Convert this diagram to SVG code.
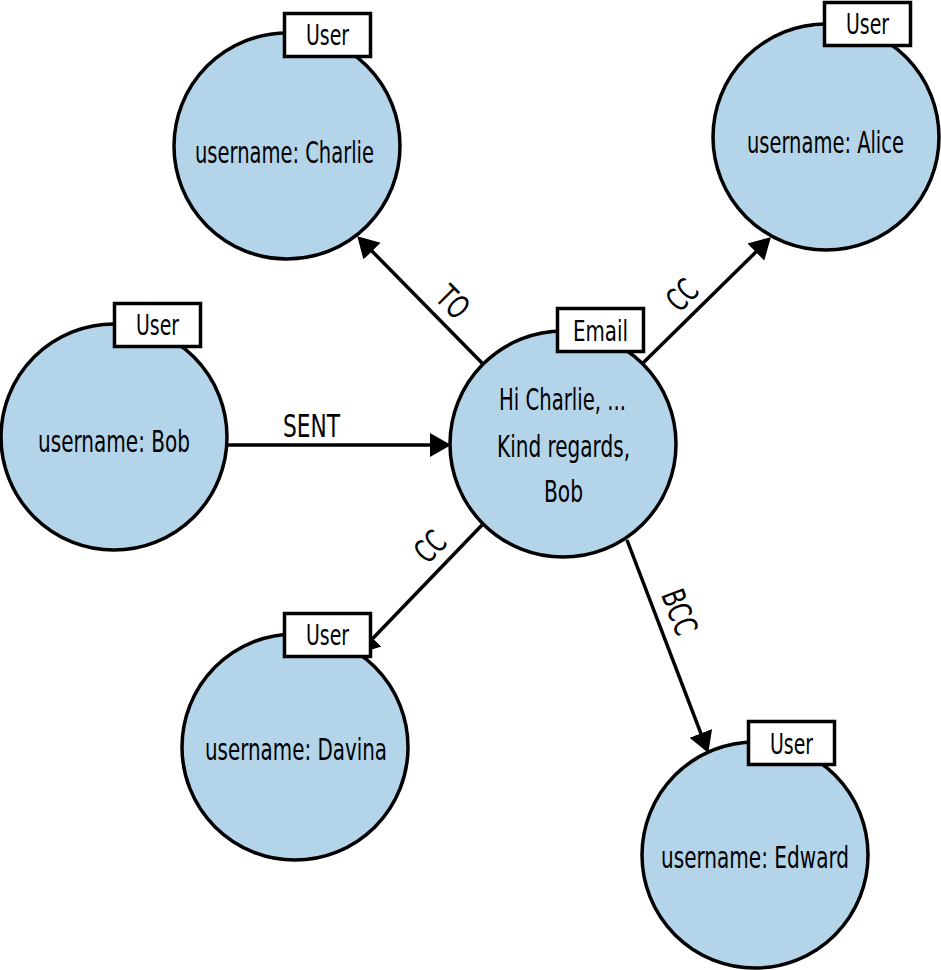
<svg xmlns="http://www.w3.org/2000/svg" width="941" height="970" viewBox="0 0 941 970">
<defs>
<marker id="arr" markerUnits="userSpaceOnUse" markerWidth="22" markerHeight="26" viewBox="0 0 22 26" refX="10" refY="13" orient="auto">
<path d="M0,1 L21,13 L0,25 Z" fill="#000"/>
</marker>
</defs>
<style>
.c{fill:#b4d4ea;stroke:#000;stroke-width:3.5}
.b{fill:#fff;stroke:#000;stroke-width:3.5}
.t{font-family:"Liberation Sans Narrow","DejaVu Sans Condensed","Liberation Sans",sans-serif;font-size:31px;fill:#000;text-anchor:middle}
.u{font-size:28px}
.l{font-size:32px}
.e{fill:none;stroke:#000;stroke-width:3.5;marker-end:url(#arr)}
</style>
<rect width="941" height="970" fill="#fff"/>
<g id="connectors">
<line class="e" x1="482" y1="363" x2="365" y2="244"/>
<line class="e" x1="643" y1="363" x2="763" y2="245"/>
<line class="e" x1="226" y1="445" x2="440" y2="445"/>
<line class="e" x1="482" y1="525" x2="366" y2="645.5"/>
<line class="e" x1="627" y1="540" x2="704.4" y2="742.7"/>
<text class="t l" x="311.5" y="437" textLength="57" lengthAdjust="spacingAndGlyphs">SENT</text>
<text class="t l" transform="translate(445,310) rotate(45)" textLength="32" lengthAdjust="spacingAndGlyphs">TO</text>
<text class="t l" transform="translate(690,303) rotate(-45)" textLength="30" lengthAdjust="spacingAndGlyphs">CC</text>
<text class="t l" transform="translate(438,554.5) rotate(-45)" textLength="30" lengthAdjust="spacingAndGlyphs">CC</text>
<text class="t l" transform="translate(669,616) rotate(69)" textLength="46" lengthAdjust="spacingAndGlyphs">BCC</text>
</g>
<g id="charlie">
<circle class="c" cx="287" cy="146" r="113"/>
<rect class="b" x="284.5" y="13.5" width="86" height="43"/>
<text class="t u" x="327.5" y="45" textLength="43" lengthAdjust="spacingAndGlyphs">User</text>
<text class="t" x="284.5" y="163" textLength="179" lengthAdjust="spacingAndGlyphs">username: Charlie</text>
</g>
<g id="alice">
<circle class="c" cx="826" cy="137" r="113"/>
<rect class="b" x="824.5" y="2.5" width="86" height="43"/>
<text class="t u" x="867.5" y="34" textLength="43" lengthAdjust="spacingAndGlyphs">User</text>
<text class="t" x="825.5" y="153" textLength="157" lengthAdjust="spacingAndGlyphs">username: Alice</text>
</g>
<g id="bob">
<circle class="c" cx="114" cy="437" r="113"/>
<rect class="b" x="114.5" y="303.5" width="86" height="43"/>
<text class="t u" x="157.5" y="335" textLength="43" lengthAdjust="spacingAndGlyphs">User</text>
<text class="t" x="114" y="452" textLength="152" lengthAdjust="spacingAndGlyphs">username: Bob</text>
</g>
<g id="email">
<circle class="c" cx="563" cy="444" r="113"/>
<rect class="b" x="557.5" y="308.5" width="86" height="43"/>
<text class="t u" x="600.5" y="341" textLength="55" lengthAdjust="spacingAndGlyphs">Email</text>
<text class="t" x="562.5" y="410" textLength="127" lengthAdjust="spacingAndGlyphs">Hi Charlie, ...</text>
<text class="t" x="563.5" y="457" textLength="133" lengthAdjust="spacingAndGlyphs">Kind regards,</text>
<text class="t" x="563.5" y="502" textLength="39" lengthAdjust="spacingAndGlyphs">Bob</text>
</g>
<g id="davina">
<circle class="c" cx="295" cy="747" r="113"/>
<rect class="b" x="284.5" y="613.5" width="86" height="43"/>
<text class="t u" x="327.5" y="645" textLength="43" lengthAdjust="spacingAndGlyphs">User</text>
<text class="t" x="296" y="760" textLength="182" lengthAdjust="spacingAndGlyphs">username: Davina</text>
</g>
<g id="edward">
<circle class="c" cx="755" cy="855" r="113"/>
<rect class="b" x="748.5" y="721.5" width="86" height="43"/>
<text class="t u" x="791.5" y="754" textLength="43" lengthAdjust="spacingAndGlyphs">User</text>
<text class="t" x="755" y="868" textLength="188" lengthAdjust="spacingAndGlyphs">username: Edward</text>
</g>
</svg>
